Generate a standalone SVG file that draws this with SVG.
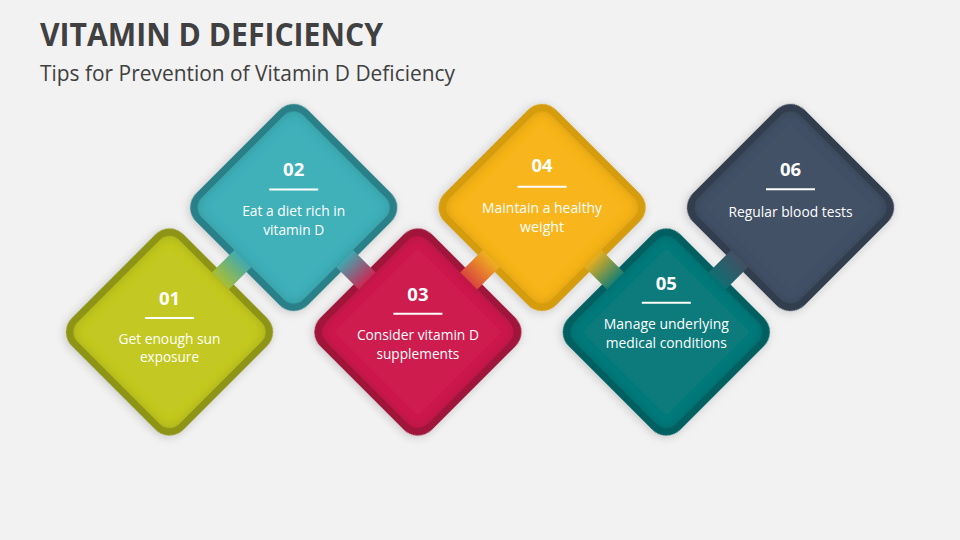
<svg xmlns="http://www.w3.org/2000/svg" width="960" height="540" viewBox="0 0 960 540">
<style>
.title{font-family:"Open Sans","Liberation Sans",sans-serif;font-weight:700;font-size:33px;fill:#404040}
.sub{font-family:"Open Sans","Liberation Sans",sans-serif;font-size:22px;fill:#404040}
.num{font-family:"Open Sans","Liberation Sans",sans-serif;font-weight:700;font-size:18.5px;fill:#fff;text-anchor:middle}
.txt{font-family:"Open Sans","Liberation Sans",sans-serif;font-weight:500;font-size:14px;fill:#fff;text-anchor:middle}
.ul{stroke:#fff;stroke-width:2}
</style>
<defs>
<filter id="drop" x="-30%" y="-30%" width="160%" height="160%">
<feDropShadow dx="0" dy="2" stdDeviation="5" flood-color="#000" flood-opacity="0.18"/>
</filter>
<filter id="inner" x="-10%" y="-10%" width="120%" height="120%">
<feFlood flood-color="#000" flood-opacity="0.3" result="f"/>
<feComposite in="f" in2="SourceAlpha" operator="out" result="o"/>
<feGaussianBlur in="o" stdDeviation="6" result="b"/>
<feComposite in="b" in2="SourceAlpha" operator="in" result="s"/>
<feMerge><feMergeNode in="SourceGraphic"/><feMergeNode in="s"/></feMerge>
</filter>
<rect id="outer" x="-79" y="-79" width="158" height="158" rx="20"/>
<rect id="innerR" x="-72" y="-72" width="144" height="144" rx="14"/>
<linearGradient id="g12" x1="0" y1="0" x2="1" y2="0"><stop offset="0" stop-color="#A9BE35"/><stop offset="1" stop-color="#3FA9B2"/></linearGradient>
<linearGradient id="g23" x1="0" y1="0" x2="1" y2="0"><stop offset="0" stop-color="#3FA9B2"/><stop offset="1" stop-color="#C82A55"/></linearGradient>
<linearGradient id="g34" x1="0" y1="0" x2="1" y2="0"><stop offset="0" stop-color="#D8453E"/><stop offset="1" stop-color="#F0B020"/></linearGradient>
<linearGradient id="g45" x1="0" y1="0" x2="1" y2="0"><stop offset="0" stop-color="#E9AF1F"/><stop offset="1" stop-color="#1A7F72"/></linearGradient>
<linearGradient id="g56" x1="0" y1="0" x2="1" y2="0"><stop offset="0" stop-color="#0F6F72"/><stop offset="1" stop-color="#425063"/></linearGradient>
</defs>
<rect width="960" height="540" fill="#F2F2F2"/>
<text class="title" x="40" y="46" textLength="343" lengthAdjust="spacingAndGlyphs">VITAMIN D DEFICIENCY</text>
<text class="sub" x="40" y="81" textLength="415" lengthAdjust="spacingAndGlyphs">Tips for Prevention of Vitamin D Deficiency</text>

<g id="node-01" transform="translate(169.5,332)">
<g transform="rotate(45)"><use href="#outer" fill="#8E9414" filter="url(#drop)"/><use href="#innerR" fill="#C3C923" filter="url(#inner)"/></g>
<text class="num" x="0" y="-27.3">01</text>
<line class="ul" x1="-24.5" y1="-14" x2="24.5" y2="-14"/>
<text class="txt" x="0" y="12" textLength="102" lengthAdjust="spacingAndGlyphs">Get enough sun</text>
<text class="txt" x="0" y="30" textLength="59" lengthAdjust="spacingAndGlyphs">exposure</text>
</g>
<g id="node-02" transform="translate(293.7,207.5)">
<g transform="rotate(45)"><use href="#outer" fill="#2C8088" filter="url(#drop)"/><use href="#innerR" fill="#3FB0B9" filter="url(#inner)"/></g>
<text class="num" x="0" y="-31.5">02</text>
<line class="ul" x1="-24.5" y1="-18" x2="24.5" y2="-18"/>
<text class="txt" x="0" y="8.2" textLength="103" lengthAdjust="spacingAndGlyphs">Eat a diet rich in</text>
<text class="txt" x="0" y="27.2" textLength="61" lengthAdjust="spacingAndGlyphs">vitamin D</text>
</g>
<g id="node-03" transform="translate(417.9,332)">
<g transform="rotate(45)"><use href="#outer" fill="#A0123A" filter="url(#drop)"/><use href="#innerR" fill="#CD1A4D" filter="url(#inner)"/></g>
<text class="num" x="0" y="-31">03</text>
<line class="ul" x1="-24.5" y1="-18.3" x2="24.5" y2="-18.3"/>
<text class="txt" x="0" y="8" textLength="122" lengthAdjust="spacingAndGlyphs">Consider vitamin D</text>
<text class="txt" x="0" y="26.5" textLength="83" lengthAdjust="spacingAndGlyphs">supplements</text>
</g>
<g id="node-04" transform="translate(542.1,207.5)">
<g transform="rotate(45)"><use href="#outer" fill="#D59C08" filter="url(#drop)"/><use href="#innerR" fill="#F8B51A" filter="url(#inner)"/></g>
<text class="num" x="0" y="-35.8">04</text>
<line class="ul" x1="-24.5" y1="-20.8" x2="24.5" y2="-20.8"/>
<text class="txt" x="0" y="5.8" textLength="120" lengthAdjust="spacingAndGlyphs">Maintain a healthy</text>
<text class="txt" x="0" y="24" textLength="44" lengthAdjust="spacingAndGlyphs">weight</text>
</g>
<g id="node-05" transform="translate(666.3,332)">
<g transform="rotate(45)"><use href="#outer" fill="#055E60" filter="url(#drop)"/><use href="#innerR" fill="#077A7B" filter="url(#inner)"/></g>
<text class="num" x="0" y="-42">05</text>
<line class="ul" x1="-24.5" y1="-29.3" x2="24.5" y2="-29.3"/>
<text class="txt" x="0" y="-3" textLength="125" lengthAdjust="spacingAndGlyphs">Manage underlying</text>
<text class="txt" x="0" y="15.7" textLength="121" lengthAdjust="spacingAndGlyphs">medical conditions</text>
</g>
<g id="node-06" transform="translate(790.5,207.5)">
<g transform="rotate(45)"><use href="#outer" fill="#313D4D" filter="url(#drop)"/><use href="#innerR" fill="#435166" filter="url(#inner)"/></g>
<text class="num" x="0" y="-31.5">06</text>
<line class="ul" x1="-24.5" y1="-18.2" x2="24.5" y2="-18.2"/>
<text class="txt" x="0" y="9.2" textLength="124" lengthAdjust="spacingAndGlyphs">Regular blood tests</text>
</g>

<g id="connectors">
<rect x="-16" y="-12" width="32" height="24" fill="url(#g12)" transform="translate(231.6,269.75) rotate(-45)"/>
<rect x="-16" y="-12" width="32" height="24" fill="url(#g23)" transform="translate(355.8,269.75) rotate(45)"/>
<rect x="-16" y="-12" width="32" height="24" fill="url(#g34)" transform="translate(480,269.75) rotate(-45)"/>
<rect x="-16" y="-12" width="32" height="24" fill="url(#g45)" transform="translate(604.2,269.75) rotate(45)"/>
<rect x="-16" y="-12" width="32" height="24" fill="url(#g56)" transform="translate(728.4,269.75) rotate(-45)"/>
</g>
</svg>
